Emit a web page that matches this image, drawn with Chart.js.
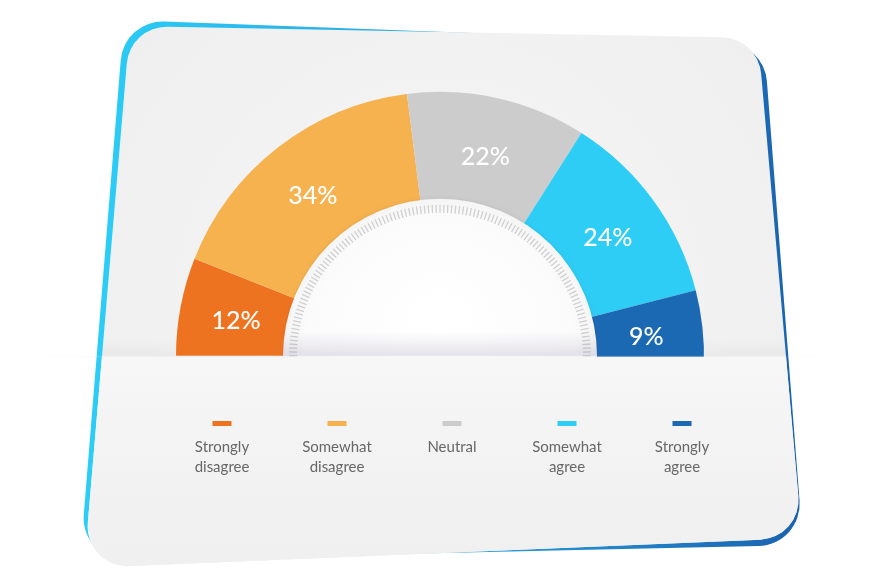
<!DOCTYPE html>
<html>
<head>
<meta charset="utf-8">
<title>Gauge de opinión</title>
<script src="https://cdn.jsdelivr.net/npm/chart.js@4.4.1/dist/chart.umd.min.js"></script>
<style>
  html, body { margin: 0; padding: 0; background: #ffffff; }
  #wrap { width: 880px; height: 582px; position: relative; }
</style>
</head>
<body>
<div id="wrap"><canvas id="gauge"></canvas></div>
<script>
// --- Datos ---
const categorias = ['Strongly disagree', 'Somewhat disagree', 'Neutral', 'Somewhat agree', 'Strongly agree'];
const porcentajes = [12, 34, 22, 24, 9];
const colores = ['#ee7321', '#f5b24f', '#cccccc', '#2ecdf5', '#1c69b3'];

// Geometría decorativa (tarjeta inclinada y dial)
const tarjeta = [[130, 26], [758, 38], [802, 538], [84, 568]];
const borde = [[124, 20], [764, 44], [803, 545], [80, 561]];
const RADIO_DIAL = 157;

function caminoRedondeado(ctx, pts, r) {
    const n = pts.length;
    ctx.beginPath();
    ctx.moveTo((pts[n - 1][0] + pts[0][0]) / 2, (pts[n - 1][1] + pts[0][1]) / 2);
    for (let i = 0; i < n; i++) {
        const p = pts[i], q = pts[(i + 1) % n];
        ctx.arcTo(p[0], p[1], (p[0] + q[0]) / 2, (p[1] + q[1]) / 2, r);
    }
    ctx.closePath();
}

// Fondo: tarjeta gris con borde azul degradado
const pluginFondo = {
    id: 'fondo',
    beforeDraw(chart) {
        const ctx = chart.ctx;
        ctx.save();
        const gAzul = ctx.createLinearGradient(100, 0, 800, 0);
        gAzul.addColorStop(0, '#2bcdf6');
        gAzul.addColorStop(0.5, '#2aa2e0');
        gAzul.addColorStop(1, '#1a62ae');
        caminoRedondeado(ctx, borde, 42);
        ctx.fillStyle = gAzul;
        ctx.fill();

        const gGris = ctx.createRadialGradient(440, 300, 20, 440, 300, 460);
        gGris.addColorStop(0, '#f6f6f6');
        gGris.addColorStop(1, '#eeeeee');
        caminoRedondeado(ctx, tarjeta, 40);
        ctx.fillStyle = gGris;
        ctx.fill();
        ctx.restore();
    }
};

// Dial, etiquetas, panel inferior y leyenda
const pluginDial = {
    id: 'dial',
    afterDatasetsDraw(chart) {
        const ctx = chart.ctx;
        const arcos = chart.getDatasetMeta(0).data;
        const cx = arcos[0].x, cy = arcos[0].y;

        // Dial blanco
        ctx.save();
        ctx.shadowColor = 'rgba(0,0,0,0.08)';
        ctx.shadowBlur = 4;
        const gDial = ctx.createRadialGradient(cx, cy - 40, 10, cx, cy, RADIO_DIAL);
        gDial.addColorStop(0, '#ffffff');
        gDial.addColorStop(0.85, '#fbfbfb');
        gDial.addColorStop(1, '#f5f5f5');
        ctx.beginPath();
        ctx.arc(cx, cy, RADIO_DIAL, 0, Math.PI * 2);
        ctx.fillStyle = gDial;
        ctx.fill();
        ctx.restore();

        // Marcas del dial
        ctx.save();
        ctx.strokeStyle = '#cfcfcf';
        ctx.lineWidth = 1.3;
        for (let a = 180; a <= 360; a += 1.5) {
            const t = a * Math.PI / 180;
            ctx.beginPath();
            ctx.moveTo(cx + Math.cos(t) * 143, cy + Math.sin(t) * 143);
            ctx.lineTo(cx + Math.cos(t) * 151, cy + Math.sin(t) * 151);
            ctx.stroke();
        }
        ctx.restore();

        // Sombra suave sobre la línea del panel, dentro del dial
        ctx.save();
        ctx.beginPath();
        ctx.arc(cx, cy, RADIO_DIAL, 0, Math.PI * 2);
        ctx.clip();
        const gSombra = ctx.createLinearGradient(0, cy - 24, 0, cy);
        gSombra.addColorStop(0, 'rgba(140,130,165,0)');
        gSombra.addColorStop(1, 'rgba(140,130,165,0.22)');
        ctx.fillStyle = gSombra;
        ctx.fillRect(cx - RADIO_DIAL, cy - 24, RADIO_DIAL * 2, 24);
        ctx.restore();

        // Etiquetas de porcentaje
        ctx.save();
        ctx.fillStyle = '#ffffff';
        ctx.font = '500 25px Lato';
        ctx.textAlign = 'center';
        ctx.textBaseline = 'middle';
        arcos.forEach((arc, i) => {
            const p = arc.getProps(['x', 'y', 'startAngle', 'endAngle', 'outerRadius'], true);
            const ang = (p.startAngle + p.endAngle) / 2;
            const r = (p.outerRadius + RADIO_DIAL) / 2 - 3;
            ctx.fillText(porcentajes[i] + '%', p.x + Math.cos(ang) * r, p.y + Math.sin(ang) * r + 4);
        });
        ctx.restore();

        // Panel inferior que corta el semicírculo
        ctx.save();
        const gLinea = ctx.createLinearGradient(20, 0, 840, 0);
        gLinea.addColorStop(0, 'rgba(230,230,235,0)');
        gLinea.addColorStop(0.15, 'rgba(230,230,235,0.3)');
        gLinea.addColorStop(0.85, 'rgba(230,230,235,0.3)');
        gLinea.addColorStop(1, 'rgba(230,230,235,0)');
        ctx.fillStyle = gLinea;
        ctx.fillRect(20, cy, 820, 1.5);
        caminoRedondeado(ctx, tarjeta, 40);
        ctx.clip();
        const gBanda = ctx.createLinearGradient(0, cy - 18, 0, cy);
        gBanda.addColorStop(0, 'rgba(0,0,0,0)');
        gBanda.addColorStop(1, 'rgba(0,0,0,0.03)');
        ctx.fillStyle = gBanda;
        ctx.fillRect(0, cy - 18, 176, 18);
        ctx.fillRect(704, cy - 18, 176, 18);
        const gPanel = ctx.createLinearGradient(0, cy, 0, 580);
        gPanel.addColorStop(0, '#f7f7f7');
        gPanel.addColorStop(0.3, '#f4f4f4');
        gPanel.addColorStop(1, '#efefef');
        ctx.fillStyle = gPanel;
        ctx.fillRect(0, cy + 1, 880, 600);
        ctx.restore();

        // Leyenda
        ctx.save();
        ctx.font = '15px Lato';
        ctx.textAlign = 'center';
        ctx.textBaseline = 'middle';
        categorias.forEach((cat, i) => {
            const x = 452 + (i - 2) * 115;
            ctx.fillStyle = colores[i];
            ctx.fillRect(x - 9.5, 421, 19, 5);
            ctx.fillStyle = '#676767';
            cat.split(' ').forEach((w, j) => ctx.fillText(w, x, 447 + j * 20));
        });
        ctx.restore();
    }
};

const total = porcentajes.reduce((a, b) => a + b, 0);

new Chart(document.getElementById('gauge'), {
    type: 'doughnut',
    data: {
        labels: categorias,
        datasets: [{
            data: porcentajes,
            backgroundColor: colores,
            borderWidth: 0
        }]
    },
    options: {
        responsive: true,
        maintainAspectRatio: false,
        animation: false,
        events: [],
        rotation: -90,
        circumference: total * 1.8,   // cada punto porcentual = 1.8 grados
        radius: 264,
        cutout: '55%',
        layout: { padding: { top: 0, bottom: 126, left: 0, right: 0 } },
        plugins: {
            legend: { display: false },
            tooltip: { enabled: false }
        }
    },
    plugins: [pluginFondo, pluginDial]
});
</script>
</body>
</html>
